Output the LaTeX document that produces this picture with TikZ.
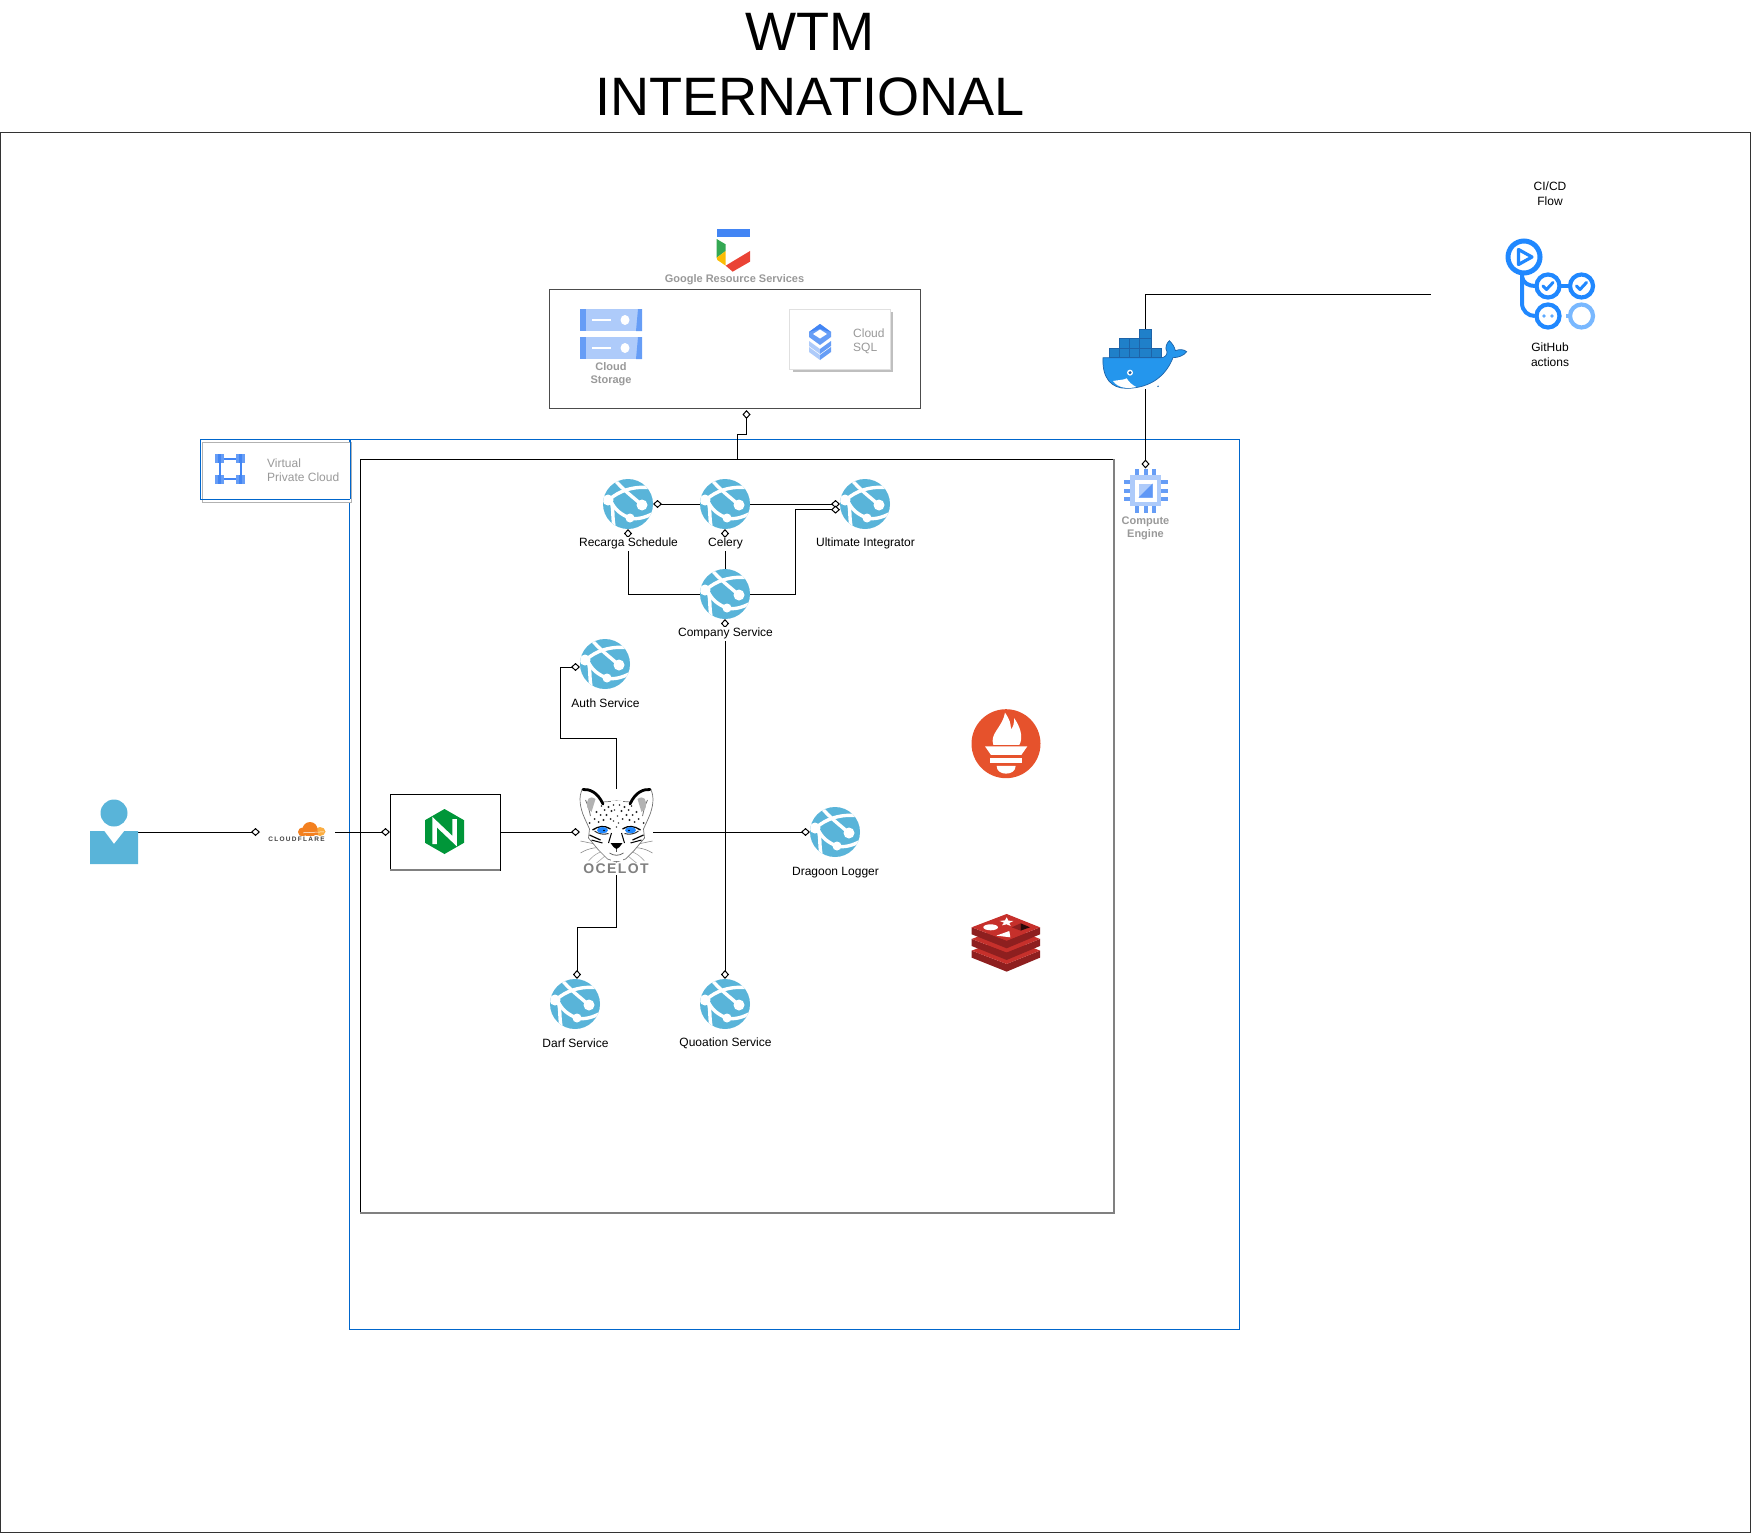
\documentclass[tikz,border=0pt]{standalone}
\usepackage{fontspec}
\setmainfont{Liberation Sans}
\newfontfamily\cffont[LetterSpace=20]{Liberation Sans}
\newfontfamily\ocfont[LetterSpace=10]{Liberation Sans}
\usetikzlibrary{arrows.meta,shapes.geometric}
\definecolor{azure}{HTML}{59B4D9}
\definecolor{gblue}{HTML}{4285F4}
\definecolor{gmid}{HTML}{669DF6}
\definecolor{glight}{HTML}{AECBFA}
\definecolor{ggreen}{HTML}{34A853}
\definecolor{gyellow}{HTML}{FBBC04}
\definecolor{gred}{HTML}{EA4335}
\definecolor{gtext}{HTML}{999999}
\definecolor{vpcblue}{HTML}{0066CC}
\definecolor{ghblue}{HTML}{2088FF}
\definecolor{ghlight}{HTML}{79B8FF}
\definecolor{dockblue}{HTML}{2496ED}
\definecolor{dockdark}{HTML}{1D63A8}
\definecolor{promo}{HTML}{E6522C}
\definecolor{redisa}{HTML}{C6302B}
\definecolor{redisb}{HTML}{8E1F1F}
\definecolor{nginxg}{HTML}{009639}
\definecolor{cfa}{HTML}{F38020}
\definecolor{cfb}{HTML}{FBAD41}
\tikzset{
  svcbox/.style={inner sep=0pt,outer sep=0pt,minimum width=50pt,minimum height=50pt},
  svclabel/.style={fill=white,inner xsep=1pt,inner ysep=0pt,outer sep=0pt,minimum height=14pt,font=\fontsize{12}{14}\selectfont},
  plainlabel/.style={inner sep=0pt,outer sep=0pt,align=center,font=\fontsize{12}{15}\selectfont},
  greybold/.style={inner sep=0pt,align=center,text=gtext,font=\fontsize{11}{13}\selectfont\bfseries},
  greyplain/.style={inner sep=0pt,align=left,text=gtext,font=\fontsize{12}{14}\selectfont},
  conn/.style={line width=1pt,draw=black},
  endd/.style={-{Diamond[width=8pt,length=9pt,fill=white,line width=1pt]}},
  bothd/.style={{Diamond[width=8pt,length=9pt,fill=white,line width=1pt]}-{Diamond[width=8pt,length=9pt,fill=white,line width=1pt]}},
}
\newcommand\svcicon[1]{%
  \begin{scope}[shift={(#1)}]
    \fill[azure] (0,0) circle (25);
    \begin{scope}
      \clip (0,0) circle (25);
      \draw[white,line width=3.4pt] (-18,-5) .. controls (-10,-12) and (4,-19) .. (26,-16);
      \draw[white,line width=3.4pt] (-14,-25) .. controls (-6,-15) and (6,-6) .. (14,1);
      \draw[white,line width=3.4pt] (-18,-5) .. controls (-14,6) and (-6,11) .. (2,14) .. controls (10,16) and (18,13) .. (26,9);
      \draw[white,line width=3.4pt] (-18,-5) .. controls (-14,3) and (-16,12) .. (-14,22);
      \fill[white] (-20,-4) circle (5.5);
      \fill[white] (14,1) circle (5.5);
      \fill[white] (2,14) circle (4.5);
    \end{scope}
  \end{scope}}
\newcommand\storagebar[1]{%
  \fill[glight] (580,#1-11) rectangle (642,#1+11);
  \fill[gmid] (580,#1-11) rectangle (586,#1+11);
  \fill[gmid] (636,#1+11) -- (638,#1-11) -- (642,#1-11) -- (642,#1+11) -- cycle;
  \fill[white] (592,#1-1.3) rectangle (611,#1+1.3);
  \fill[white] (625,#1) ellipse (4.5 and 5);}
\begin{document}
\begin{tikzpicture}[x=1pt,y=-1pt]
\useasboundingbox (0,0) rectangle (1751,1533);

% ---- frames
\node[draw=black!80,line width=1pt,inner sep=0,outer sep=0,minimum width=1750pt,minimum height=1400pt] (frame) at (875.5,832.5) {};
\node[inner sep=0,align=center,font=\fontsize{54.1}{65}\selectfont] (title) at (810,65) {WTM\\INTERNATIONAL};
\node[draw=vpcblue,line width=1pt,inner sep=0,outer sep=0,minimum width=890pt,minimum height=890pt] (vpc) at (794.5,884.5) {};
\node[draw=black!70,line width=1pt,inner sep=0,outer sep=0,minimum width=371pt,minimum height=119pt] (google) at (735,349) {};
\node[draw=black,line width=1pt,inner sep=0,outer sep=0,minimum width=754pt,minimum height=754pt] (inner) at (737,836) {};
\draw[black!50,line width=1.6pt] (inner.north east) -- (inner.south east) -- (inner.south west);

% ---- VPC label
\fill[white,draw=black!30,line width=1pt] (202.5,442) rectangle (351.5,502);
\draw[vpcblue,line width=1pt] (350,439) -- (200.5,439) -- (200.5,499) -- (350,499);
\draw[vpcblue,line width=1pt] (350,439) -- (350,499);
\begin{scope}
  \draw[gblue,line width=2pt] (219.5,459) rectangle (240.5,479);
  \foreach \cx/\cy in {219.5/458.5,240.5/458.5,219.5/479.5,240.5/479.5}{
    \fill[gmid] (\cx-4.5,\cy-4.5) rectangle (\cx+4.5,\cy+4.5);
    \fill[gblue] (\cx-1.5,\cy-4.5) rectangle (\cx+1.5,\cy+4.5);
  }
\end{scope}
\node[greyplain,anchor=west] (vpctext) at (267,470) {Virtual\\Private Cloud};

% ---- node anchors that connectors use
\node[svcbox] (recarga) at (628,504) {};
\node[svcbox] (celery) at (725,504) {};
\node[svcbox] (ultimate) at (865,504) {};
\node[svcbox] (company) at (725,594) {};
\node[svcbox] (auth) at (605,664) {};
\node[svcbox] (dragoon) at (835,832) {};
\node[svcbox] (darf) at (575,1004) {};
\node[svcbox] (quoation) at (725,1004) {};
\node[inner sep=0,outer sep=0,minimum width=48pt,minimum height=64pt] (user) at (114,832) {};
\node[inner sep=0,outer sep=0,minimum width=75pt,minimum height=25pt] (cloudflare) at (297.5,832) {};
\node[draw=black,line width=1pt,fill=white,inner sep=0,outer sep=0,minimum width=110pt,minimum height=76pt] (nginx) at (445,832) {};
\draw[black!50,line width=1.6pt] (nginx.south west) -- (nginx.south east);
\node[inner sep=0,outer sep=0,minimum width=73pt,minimum height=86pt] (ocelot) at (616.5,832) {};
\node[inner sep=0,outer sep=0,minimum width=84pt,minimum height=60pt] (docker) at (1145.5,359) {};
\node[inner sep=0,outer sep=0,minimum width=44pt,minimum height=44pt] (compute) at (1145.5,490.5) {};
\coordinate (ghend) at (1431,294);

% ---- connectors
\draw[conn,endd] (celery.west) -- (recarga.east);
\draw[conn,endd] (celery.east) -- (ultimate.west);
\draw[conn,endd] (company.west) -| (recarga.south);
\draw[conn,endd] (company.north) -- (celery.south);
\draw[conn,endd] (company.east) -- ++(45.3,0) |- ([yshift=-5.7pt]ultimate.west);
\draw[conn,bothd] (company.south) -- (quoation.north);
\draw[conn,endd] (ocelot.north) -- ++(0,-51) -- ++(-56,0) |- ([yshift=-3pt]auth.west);
\draw[conn,endd] (ocelot.south) -- ++(0,52) -| ([xshift=2pt]darf.north);
\draw[conn,endd] (nginx.east) -- (ocelot.west);
\draw[conn,endd] (ocelot.east) -- (dragoon.west);
\draw[conn,endd] (user.east) -- (cloudflare.west);
\draw[conn,endd] (cloudflare.east) -- (nginx.west);
\draw[conn,endd] (inner.north) -- ++(0,-25) -| ([xshift=11.5pt,yshift=-1.5pt]google.south);
\draw[conn] (docker.north) |- (ghend);
\draw[conn,endd] (docker.south) -- (compute.north);

% ---- service icons
\svcicon{recarga.center}
\svcicon{celery.center}
\svcicon{ultimate.center}
\svcicon{company.center}
\svcicon{auth.center}
\svcicon{dragoon.center}
\svcicon{darf.center}
\svcicon{quoation.center}

% ---- service labels
\node[svclabel] (recargaL) at (628.5,543.5) {Recarga Schedule};
\node[svclabel] (celeryL) at (725.5,543.5) {Celery};
\node[svclabel] (ultimateL) at (865.5,543.5) {Ultimate Integrator};
\node[svclabel] (companyL) at (725.5,633.5) {Company Service};
\node[svclabel] (authL) at (605.5,703) {Auth Service};
\node[svclabel] (dragoonL) at (835.5,872.5) {Dragoon Logger};
\node[svclabel] (darfL) at (575.5,1043) {Darf Service};
\node[svclabel] (quoationL) at (725.5,1043.5) {Quoation Service};

% ---- user
\fill[azure] (114,813) circle (13.5);
\fill[azure] (90,831) -- (104.3,831) -- (114,844) -- (124.3,831) -- (138,831) -- (138,864) -- (90,864) -- cycle;

% ---- cloudflare
\begin{scope}
  \clip (290,815) rectangle (330,835);
  \fill[cfb] (320,831.5) ellipse (5.5 and 4.5);
  \fill[cfa] (310,829.5) circle (7.5);
  \fill[cfa] (302.5,832) circle (4.5);
  \fill[cfa] (304,831) rectangle (318,835);
  \draw[white,line width=0.5pt] (303,832.8) -- (324,831.8);
\end{scope}
\node[inner sep=0,text=black!75,font=\fontsize{6.5}{7}\selectfont\cffont\bfseries] (cftext) at (296.5,839.2) {CLOUDFLARE};

% ---- nginx logo
\fill[nginxg] (444.5,809) -- (464,820.2) -- (464,842.8) -- (444.5,854) -- (425,842.8) -- (425,820.2) -- cycle;
\draw[white,line width=4.5pt,line cap=butt,line join=miter] (434.5,844) -- (434.5,822) -- (454.5,841) -- (454.5,819);

% ---- ocelot
\begin{scope}[shift={(ocelot.center)}]
  \foreach \s in {1,-1}{
    \begin{scope}[xscale=\s]
      \draw[black!45,line width=0.6pt] (7,15) -- (36,9);
      \draw[black!45,line width=0.6pt] (7,17) .. controls (18,14) and (28,16) .. (36,21);
      \draw[black!35,line width=0.6pt] (7,19) .. controls (15,18) and (22,22) .. (28,29);
      \draw[black!35,line width=0.6pt] (9,22) -- (20,31);
      \path[fill=white,draw=black!55,line width=0.7pt] (0,-31) -- (14,-30) .. controls (20,-40) and (28,-44) .. (34,-43)
         .. controls (38,-36) and (37,-25) .. (32,-14) -- (27,-3) -- (28,6) -- (18,18) -- (9,27) -- (0,30) -- cycle;
      \fill[white] (-0.6,-31) rectangle (6,29);
      \draw[black,line width=2.8pt,line cap=round] (13.5,-28) .. controls (19,-40) and (27,-43) .. (33.5,-42.5);
      \draw[black!55,line width=0.8pt] (31,-32) .. controls (28,-26) and (27,-20) .. (26,-16);
      \fill[black!30] (21,-33) .. controls (27,-37) and (31,-33) .. (29,-24) -- (25,-20) -- cycle;
      \draw[black,line width=1.3pt] (6,-3) .. controls (12,-7) and (18,-6) .. (24,-2);
      \draw[black!80,line width=1pt] (8,1.5) .. controls (13,3) and (18,2) .. (22,-1);
      \fill[ghblue] (14,-1.8) ellipse (5.5 and 3.2);
      \fill[black] (12.5,-1.5) circle (0.9);
      \draw[black,line width=1pt] (5,1) -- (8,11);
      \draw[black,line width=1.2pt] (27,3) -- (16,8);
      \draw[black,line width=1pt] (25,8) -- (14,11);
      \foreach \a/\b/\r in {8/-25/1.2,12/-22/1,5/-21/1.1,15/-26/.9,10/-17/1.2,16/-17/1,6/-13/1,13/-12/1.1,20/-20/1.1,22/-13/1,27/-9/1,3/-27/.9,18/-10/1}{
        \fill[black!85] (\a,\b) circle (\r);
      }
    \end{scope}
  }
  \foreach \a/\b in {-2/-22,1/-16,-3/-11,2/-9,0/-5}{\fill[black!70] (\a,\b) circle (.9);}
  \fill[black] (-6,11) -- (6,11) -- (3,15) -- (0,17) -- (-3,15) -- cycle;
  \draw[black!70,line width=0.8pt] (0,17) -- (0,20);
  \draw[black!60,line width=0.8pt] (-7,21) .. controls (-3,24) and (3,24) .. (7,21);
\end{scope}
\node[inner sep=0,text=black!50,font=\fontsize{14}{14}\selectfont\ocfont\bfseries] (octext) at (616,869) {OCELOT};

% ---- prometheus
\fill[promo] (1006,743.7) circle (34.5);
\begin{scope}[shift={(950,690)},x=0.3333pt,y=-0.3333pt]
  \fill[white] (130,165) .. controls (118,130) and (158,112) .. (165,68) .. controls (180,90) and (182,100) .. (183,118) .. controls (190,110) and (193,100) .. (192,84) .. controls (208,105) and (222,140) .. (208,165) -- cycle;
  \fill[white] (105,169) -- (232,169) -- (214,195) -- (123,195) -- cycle;
  \fill[white] (120,203) rectangle (217,220);
  \fill[white] (140,228) -- (197,228) .. controls (197,243) and (183,251) .. (168,251) .. controls (153,251) and (140,243) .. (140,228) -- cycle;
\end{scope}

% ---- redis
\begin{scope}[shift={(950,690)},x=0.3333pt,y=-0.3333pt]
  \foreach \d in {70,35,0}{
    \fill[redisb] (65,712+\d) -- (170,752+\d) -- (270,712+\d) -- (270,733+\d) -- (170,775+\d) -- (65,733+\d) -- cycle;
    \fill[redisa] (65,712+\d) -- (170,672+\d) -- (270,712+\d) -- (170,752+\d) -- cycle;
  }
  \fill[white] (122,712) ellipse (22 and 9);
  \fill[white] (170,682) -- (175,692) -- (190,693) -- (178,699) -- (182,708) -- (170,703) -- (156,706) -- (162,698) -- (149,693) -- (165,691) -- cycle;
  \fill[white] (139,737) -- (178,723) -- (181,742) -- cycle;
  \fill[redisb] (185,712) -- (212,700) -- (212,722) -- cycle;
  \fill[black!70!redisb] (212,700) -- (240,712) -- (212,722) -- cycle;
\end{scope}

% ---- google logo
\begin{scope}[shift={(710,225)},x=0.3333pt,y=-0.3333pt]
  \fill[gblue] (20,12) rectangle (120,37);
  \fill[ggreen] (20,42) -- (47,58) -- (47,78) -- (20,98) -- cycle;
  \fill[gyellow] (20,98) -- (47,78) -- (47,122) -- (22,105) -- cycle;
  \fill[gred] (120,78) -- (120,110) -- (68,140) -- (47,122) -- cycle;
\end{scope}
\node[greybold] (gtitle) at (734.5,279.5) {Google Resource Services};

% ---- cloud storage
\storagebar{320}
\storagebar{348}
\node[greybold] (gcslabel) at (611,374) {Cloud\\Storage};

% ---- cloud sql
\fill[black!25] (793,312) rectangle (892.5,372);
\node[fill=white,draw=black!12,line width=1pt,inner sep=0,outer sep=0,minimum width=101pt,minimum height=60pt] (sqlbox) at (840,339) {};
\begin{scope}
  \foreach \d in {12,6}{
    \fill[glight] (809,335+\d) -- (820,343+\d) -- (820,348+\d) -- (809,340+\d) -- cycle;
    \fill[gmid] (831,335+\d) -- (820,343+\d) -- (820,348+\d) -- (831,340+\d) -- cycle;
  }
  \fill[gmid] (820,324) -- (831,332) -- (831,337) -- (820,345) -- (809,337) -- (809,332) -- cycle;
  \fill[gblue] (820,324) -- (831,332) -- (820,329) -- (809,332) -- cycle;
  \fill[white] (820,329.5) -- (827,334) -- (820,338.5) -- (813,334) -- cycle;
\end{scope}
\node[greyplain,anchor=west] (sqltext) at (853,341) {Cloud\\SQL};

% ---- compute engine
\begin{scope}[shift={(compute.center)}]
  \foreach \p in {-8.8,0,8.8}{
    \fill[gmid] (\p-2,-22) rectangle (\p+2,-15);
    \fill[gmid] (\p-2,15) rectangle (\p+2,22);
    \fill[gmid] (-22,\p-2) rectangle (-15,\p+2);
    \fill[gmid] (15,\p-2) rectangle (22,\p+2);
  }
  \fill[glight] (-15.5,-15.5) rectangle (15.5,15.5);
  \fill[white] (-11,-11) rectangle (11,11);
  \fill[glight] (-7,-7) rectangle (7,7);
  \fill[gblue!85] (7,-7) -- (7,7) -- (-7,7) -- cycle;
\end{scope}
\node[greybold] (celabel) at (1145.5,528) {Compute\\Engine};

% ---- docker
\begin{scope}[shift={(1098,325)},x=0.3333pt,y=-0.3333pt]
  \path[fill=dockblue,draw=dockdark,line width=0.7pt] (15,98) -- (190,98) .. controls (200,98) and (208,90) .. (207,80) .. controls (200,70) and (205,55) .. (214,47) .. controls (222,55) and (230,65) .. (232,77) .. controls (245,72) and (258,73) .. (266,80) .. controls (258,92) and (240,98) .. (225,98) .. controls (205,150) and (160,190) .. (85,190) .. controls (40,190) and (12,160) .. (15,98) -- cycle;
  \fill[white] (45,168) .. controls (60,165) and (78,165) .. (86,160) .. controls (92,170) and (102,180) .. (115,186) .. controls (90,192) and (60,190) .. (45,168) -- cycle;
  \fill[white] (96,143) circle (9);
  \fill[dockdark] (96,143) circle (5);
  \fill[dockdark] (180,184) circle (2.5);
  \foreach \xa/\ya/\xb/\yb in {125/12/160/40, 65/40/95/70, 95/40/125/70, 125/40/160/70, 33/70/65/98, 65/70/95/98, 95/70/125/98, 125/70/160/98, 160/70/190/98}{
    \path[fill=dockblue!85!black,draw=dockdark,line width=0.9pt] (\xa,\ya) rectangle (\xb,\yb);
  }
\end{scope}

% ---- github actions
\draw[ghblue,line width=5pt] (1524,257) circle (16);
\draw[ghblue,line width=3.2pt,line join=round,fill=white] (1518.5,249.5) -- (1518.5,264.5) -- (1532,257) -- cycle;
\draw[ghblue,line width=4pt] (1522,275) -- (1522,303) .. controls (1522,311) and (1528,316) .. (1535,316);
\draw[ghblue,line width=4pt] (1522,277) .. controls (1523,283) and (1529,286) .. (1535,286);
\draw[ghblue,line width=4pt] (1561,286) -- (1570,286);
\draw[ghblue,line width=4.2pt] (1548,286) circle (11.5);
\draw[ghblue,line width=4.2pt] (1581.5,286) circle (11.5);
\draw[ghblue,line width=4.2pt] (1548,316) circle (11.5);
\draw[ghlight,line width=4.2pt] (1581.5,316) circle (11.5);
\draw[ghlight,line width=4pt] (1566,316) -- (1571,316);
\draw[ghblue,line width=3pt,line cap=round,line join=round] (1543,286) -- (1546.5,289.5) -- (1553,282.5);
\draw[ghblue,line width=3pt,line cap=round,line join=round] (1576.5,286) -- (1580,289.5) -- (1586.5,282.5);
\fill[ghlight!70!ghblue] (1544,316) circle (1.8);
\fill[ghlight!70!ghblue] (1552,316) circle (1.8);
\node[plainlabel] (cicd) at (1550,194) {CI/CD\\Flow};
\node[plainlabel] (ghlabel) at (1550,354.5) {GitHub\\actions};
\end{tikzpicture}
\end{document}
